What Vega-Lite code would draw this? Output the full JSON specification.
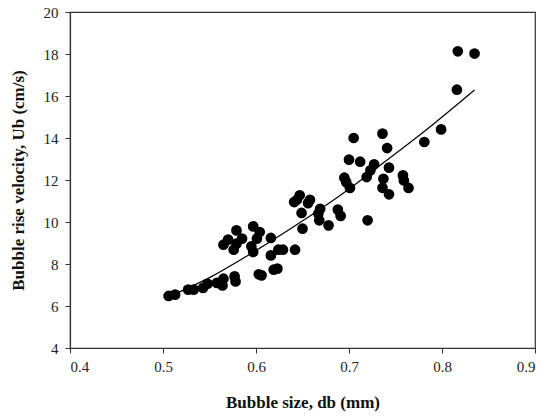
{
  "$schema": "https://vega.github.io/schema/vega-lite/v6.json",
  "description": "Bubble rise velocity against bubble size, with fitted curve.",
  "width": 465,
  "height": 336,
  "autosize": {"type": "none"},
  "padding": {"left": 70, "top": 12, "right": 15, "bottom": 72},
  "background": "white",
  "config": {
    "font": "Liberation Serif",
    "view": {"stroke": "#333", "strokeWidth": 1.2},
    "axis": {
      "grid": false,
      "domainColor": "#333",
      "domainWidth": 1.2,
      "tickColor": "#333",
      "tickSize": 5,
      "labelFont": "Liberation Serif",
      "labelFontSize": 15,
      "labelColor": "#222",
      "titleFont": "Liberation Serif",
      "titleFontSize": 17,
      "titleFontWeight": "bold",
      "titleColor": "#111"
    }
  },
  "datasets": {
    "points": [
      {"d": 0.817, "u": 18.13}, {"d": 0.835, "u": 18.02}, {"d": 0.816, "u": 16.30},
      {"d": 0.799, "u": 14.41}, {"d": 0.781, "u": 13.81}, {"d": 0.705, "u": 14.00},
      {"d": 0.736, "u": 14.21}, {"d": 0.741, "u": 13.52}, {"d": 0.700, "u": 12.97},
      {"d": 0.712, "u": 12.87}, {"d": 0.727, "u": 12.75}, {"d": 0.723, "u": 12.46},
      {"d": 0.719, "u": 12.14}, {"d": 0.743, "u": 12.59}, {"d": 0.737, "u": 12.06},
      {"d": 0.736, "u": 11.63}, {"d": 0.743, "u": 11.32}, {"d": 0.758, "u": 12.22},
      {"d": 0.759, "u": 11.98}, {"d": 0.764, "u": 11.62}, {"d": 0.695, "u": 12.11},
      {"d": 0.697, "u": 11.90}, {"d": 0.701, "u": 11.62}, {"d": 0.720, "u": 10.08},
      {"d": 0.647, "u": 11.27}, {"d": 0.644, "u": 11.06}, {"d": 0.641, "u": 10.95},
      {"d": 0.658, "u": 11.06}, {"d": 0.656, "u": 10.90}, {"d": 0.649, "u": 10.43},
      {"d": 0.650, "u": 9.68}, {"d": 0.669, "u": 10.63}, {"d": 0.667, "u": 10.40},
      {"d": 0.668, "u": 10.08}, {"d": 0.678, "u": 9.84}, {"d": 0.688, "u": 10.59},
      {"d": 0.691, "u": 10.29}, {"d": 0.597, "u": 9.79}, {"d": 0.604, "u": 9.52},
      {"d": 0.601, "u": 9.21}, {"d": 0.595, "u": 8.84}, {"d": 0.597, "u": 8.57},
      {"d": 0.579, "u": 9.60}, {"d": 0.585, "u": 9.21}, {"d": 0.579, "u": 8.97},
      {"d": 0.576, "u": 8.68}, {"d": 0.565, "u": 8.92}, {"d": 0.570, "u": 9.16},
      {"d": 0.616, "u": 9.24}, {"d": 0.616, "u": 8.41}, {"d": 0.624, "u": 8.68},
      {"d": 0.629, "u": 8.68}, {"d": 0.642, "u": 8.68}, {"d": 0.619, "u": 7.73},
      {"d": 0.623, "u": 7.78}, {"d": 0.603, "u": 7.51}, {"d": 0.606, "u": 7.46},
      {"d": 0.577, "u": 7.41}, {"d": 0.578, "u": 7.17}, {"d": 0.565, "u": 7.30},
      {"d": 0.564, "u": 6.98}, {"d": 0.558, "u": 7.10}, {"d": 0.548, "u": 7.06},
      {"d": 0.543, "u": 6.86}, {"d": 0.533, "u": 6.78}, {"d": 0.527, "u": 6.78},
      {"d": 0.513, "u": 6.54}, {"d": 0.506, "u": 6.48}
    ],
    "fit": [
      {"d": 0.505, "u": 6.42}, {"d": 0.552, "u": 7.40}, {"d": 0.592, "u": 8.43},
      {"d": 0.635, "u": 9.62}, {"d": 0.696, "u": 11.44}, {"d": 0.741, "u": 12.95},
      {"d": 0.776, "u": 14.14}, {"d": 0.835, "u": 16.29}
    ]
  },
  "layer": [
    {
      "data": {"name": "points"},
      "mark": {"type": "circle", "size": 115, "color": "black", "opacity": 1},
      "encoding": {
        "x": {
          "field": "d",
          "type": "quantitative",
          "scale": {"domain": [0.4, 0.9], "nice": false, "zero": false},
          "axis": {
            "title": "Bubble size, db (mm)",
            "values": [0.4, 0.5, 0.6, 0.7, 0.8, 0.9],
            "format": ".1f",
            "labelPadding": 6,
            "titlePadding": 20
          }
        },
        "y": {
          "field": "u",
          "type": "quantitative",
          "scale": {"domain": [4, 20], "nice": false, "zero": false},
          "axis": {
            "title": "Bubble rise velocity, Ub (cm/s)",
            "values": [4, 6, 8, 10, 12, 14, 16, 18, 20],
            "labelPadding": 7,
            "titlePadding": 16
          }
        }
      }
    },
    {
      "data": {"name": "fit"},
      "mark": {"type": "line", "color": "black", "strokeWidth": 1.2, "interpolate": "monotone"},
      "encoding": {
        "x": {"field": "d", "type": "quantitative"},
        "y": {"field": "u", "type": "quantitative"}
      }
    }
  ]
}
